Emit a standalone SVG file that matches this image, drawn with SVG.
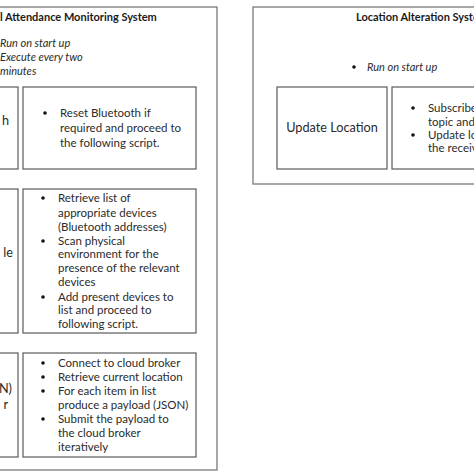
<svg xmlns="http://www.w3.org/2000/svg" width="474" height="474" viewBox="0 0 474 474">
<style>
.frame{fill:#fff;stroke:#7a7a7a;stroke-width:1.3}
.box{fill:#fff;stroke:#5a5a5a;stroke-width:1.2}
.t{font-family:Lato,"Liberation Sans",sans-serif;font-size:11.5px;fill:#2b2b2b}
.title{font-family:Lato,"Liberation Sans",sans-serif;font-size:11px;font-weight:bold;fill:#1a1a1a}
.it{font-family:Lato,"Liberation Sans",sans-serif;font-size:11px;font-style:italic;fill:#2b2b2b}
.big{font-family:Lato,"Liberation Sans",sans-serif;font-size:12.7px;fill:#2b2b2b}
.dot{fill:#111}
</style>
<rect width="474" height="474" fill="#fff"/>
<g id="frame-attendance">
<rect class="frame" x="-20" y="7" width="237" height="463"/>
<text class="title" x="0" y="21">l Attendance Monitoring System</text>
<text class="it" x="0" y="47">Run on start up</text>
<text class="it" x="0" y="61">Execute every two</text>
<text class="it" x="0" y="75">minutes</text>
</g>
<g id="frame-location">
<rect class="frame" x="253" y="7" width="240" height="177"/>
<text class="title" x="356" y="21">Location Alteration Syste</text>
<circle class="dot" cx="354" cy="67" r="1.8"/>
<text class="it" x="367" y="71">Run on start up</text>
</g>
<g id="node-bluetooth-label">
<rect class="box" x="-20" y="87" width="38" height="82"/>
<text class="big" x="9" y="125" text-anchor="end">h</text>
</g>
<g id="node-bluetooth-desc">
<rect class="box" x="23" y="87" width="173" height="82"/>
<circle class="dot" cx="45" cy="113" r="1.8"/>
<text class="t" x="60" y="117">Reset Bluetooth if</text>
<text class="t" x="60" y="132">required and proceed to</text>
<text class="t" x="60" y="147">the following script.</text>
</g>
<g id="node-scan-label">
<rect class="box" x="-20" y="189" width="38" height="144"/>
<text class="big" x="13" y="257" text-anchor="end">le</text>
</g>
<g id="node-scan-desc">
<rect class="box" x="23" y="189" width="173" height="144"/>
<circle class="dot" cx="43" cy="198" r="1.8"/>
<circle class="dot" cx="43" cy="241" r="1.8"/>
<circle class="dot" cx="43" cy="297" r="1.8"/>
<text class="t" x="58" y="202">Retrieve list of</text>
<text class="t" x="58" y="217">appropriate devices</text>
<text class="t" x="58" y="231">(Bluetooth addresses)</text>
<text class="t" x="58" y="245">Scan physical</text>
<text class="t" x="58" y="258">environment for the</text>
<text class="t" x="58" y="272">presence of the relevant</text>
<text class="t" x="58" y="286">devices</text>
<text class="t" x="58" y="301">Add present devices to</text>
<text class="t" x="58" y="314">list and proceed to</text>
<text class="t" x="58" y="328">following script.</text>
</g>
<g id="node-submit-label">
<rect class="box" x="-20" y="353" width="38" height="104"/>
<text class="big" x="12" y="393" text-anchor="end">N)</text>
<text class="big" x="8" y="409" text-anchor="end">r</text>
</g>
<g id="node-submit-desc">
<rect class="box" x="23" y="353" width="173" height="104"/>
<circle class="dot" cx="43" cy="363" r="1.8"/>
<circle class="dot" cx="43" cy="377" r="1.8"/>
<circle class="dot" cx="43" cy="391" r="1.8"/>
<circle class="dot" cx="43" cy="419" r="1.8"/>
<text class="t" x="58" y="367">Connect to cloud broker</text>
<text class="t" x="58" y="381">Retrieve current location</text>
<text class="t" x="58" y="395">For each item in list</text>
<text class="t" x="58" y="409">produce a payload (JSON)</text>
<text class="t" x="58" y="423">Submit the payload to</text>
<text class="t" x="58" y="437">the cloud broker</text>
<text class="t" x="58" y="451">iteratively</text>
</g>
<g id="node-update-location">
<rect class="box" x="277" y="87" width="110" height="82"/>
<text class="big" x="332" y="132" text-anchor="middle">Update Location</text>
</g>
<g id="node-update-desc">
<rect class="box" x="392" y="87" width="100" height="82"/>
<circle class="dot" cx="413" cy="108" r="1.8"/>
<circle class="dot" cx="413" cy="135" r="1.8"/>
<text class="t" x="428" y="112">Subscribe</text>
<text class="t" x="428" y="126">topic and</text>
<text class="t" x="428" y="139">Update lo</text>
<text class="t" x="428" y="152">the receiv</text>
</g>
<g id="connectors"></g>
</svg>
